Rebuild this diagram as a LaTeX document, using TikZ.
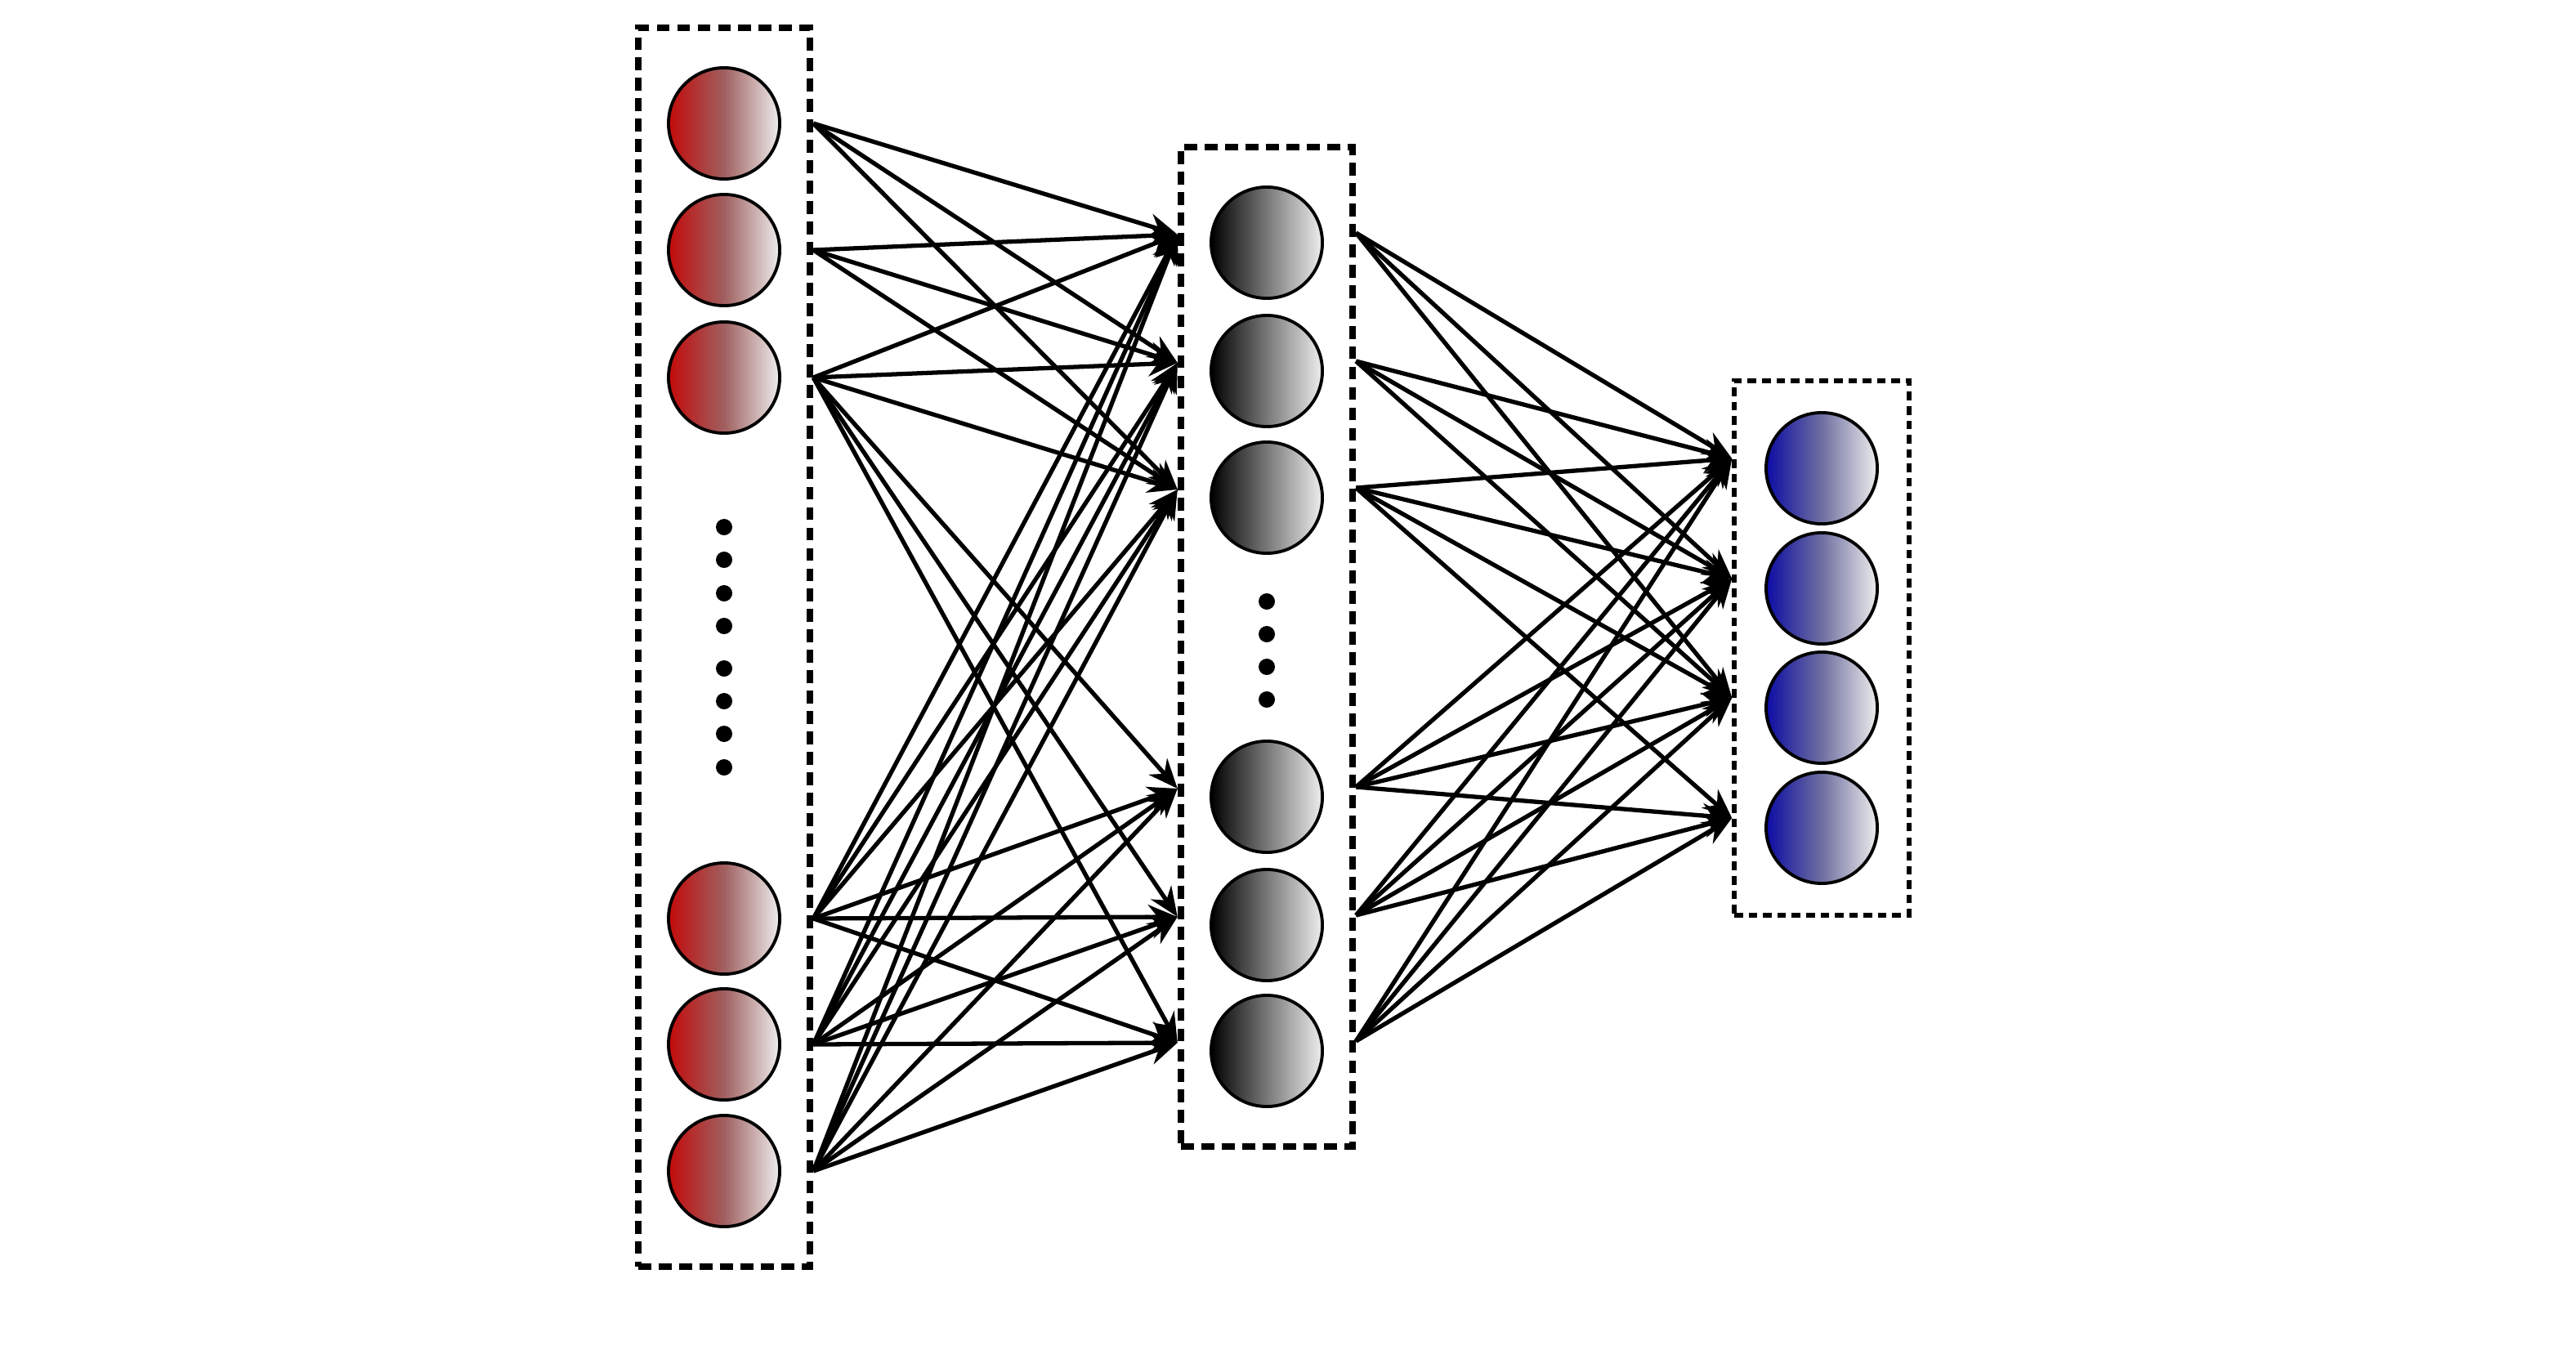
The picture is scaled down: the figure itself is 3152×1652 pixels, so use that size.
\documentclass[tikz,border=0pt]{standalone}
\usetikzlibrary{arrows.meta,fit}
\definecolor{inred}{RGB}{195,10,10}
\definecolor{midred}{RGB}{160,95,95}
\definecolor{outblue}{RGB}{12,12,165}
\definecolor{midblue}{RGB}{110,110,160}
\definecolor{midgray}{RGB}{120,120,120}
\definecolor{palegray}{RGB}{238,238,238}
\tikzset{
  neuron/.style={circle,draw=black,line width=1.1pt,minimum size=1.36cm,inner sep=0pt,right color=palegray},
  inneuron/.style={neuron,left color=inred,middle color=midred},
  hidneuron/.style={neuron,left color=black,middle color=midgray},
  outneuron/.style={neuron,left color=outblue,middle color=midblue},
  layerbox/.style={draw=black,line width=2.4pt,dash pattern=on 4.5pt off 2.6pt,inner ysep=0.47cm,inner xsep=0.35cm},
  outbox/.style={draw=black,line width=1.6pt,dash pattern=on 3pt off 2pt,inner ysep=0.37cm,inner xsep=0.37cm},
  wire/.style={line width=1.5pt,-{Stealth[length=3.6mm,width=3mm]}}
}
\begin{document}
\begin{tikzpicture}[x=0.01cm,y=-0.01cm]
\useasboundingbox (0,0) rectangle (3152,1652);
% draw neurons
\foreach \n/\y in {1/151,2/306,3/462,4/1124,5/1278,6/1433}
  \node[inneuron] (l\n) at (886,\y) {};
\foreach \n/\y in {1/297,2/454,3/609,4/975,5/1132,6/1286}
  \node[hidneuron] (h\n) at (1550,\y) {};
\foreach \n/\y in {1/573,2/720,3/866,4/1013}
  \node[outneuron] (o\n) at (2229,\y) {};
% draw dots
\foreach \y in {645,685,726,766,818,858,898,939}
  \fill (886,\y) circle (0.1cm);
\foreach \y in {736,776,816,856}
  \fill (1550,\y) circle (0.1cm);
% draw boxes
\node[layerbox,fit=(l1)(l6)] (inbox) {};
\node[layerbox,fit=(h1)(h6)] (hidbox) {};
\node[outbox,fit=(o1)(o4)] (outlayer) {};
% draw connections
\foreach \i in {1,2}
  \foreach \j in {1,2,3}
    \draw[wire] (l\i -| inbox.east) -- ([yshift=0.1cm]h\j -| hidbox.west);
\foreach \i in {3,...,6}
  \foreach \j in {1,...,6}
    \draw[wire] (l\i -| inbox.east) -- ([yshift=0.1cm]h\j -| hidbox.west);
\foreach \i in {1,2}
  \foreach \j in {1,2,3}
    \draw[wire] ([yshift=0.12cm]h\i -| hidbox.east) -- ([yshift=0.12cm]o\j -| outlayer.west);
\foreach \i in {3,...,6}
  \foreach \j in {1,...,4}
    \draw[wire] ([yshift=0.12cm]h\i -| hidbox.east) -- ([yshift=0.12cm]o\j -| outlayer.west);
\end{tikzpicture}
\end{document}
